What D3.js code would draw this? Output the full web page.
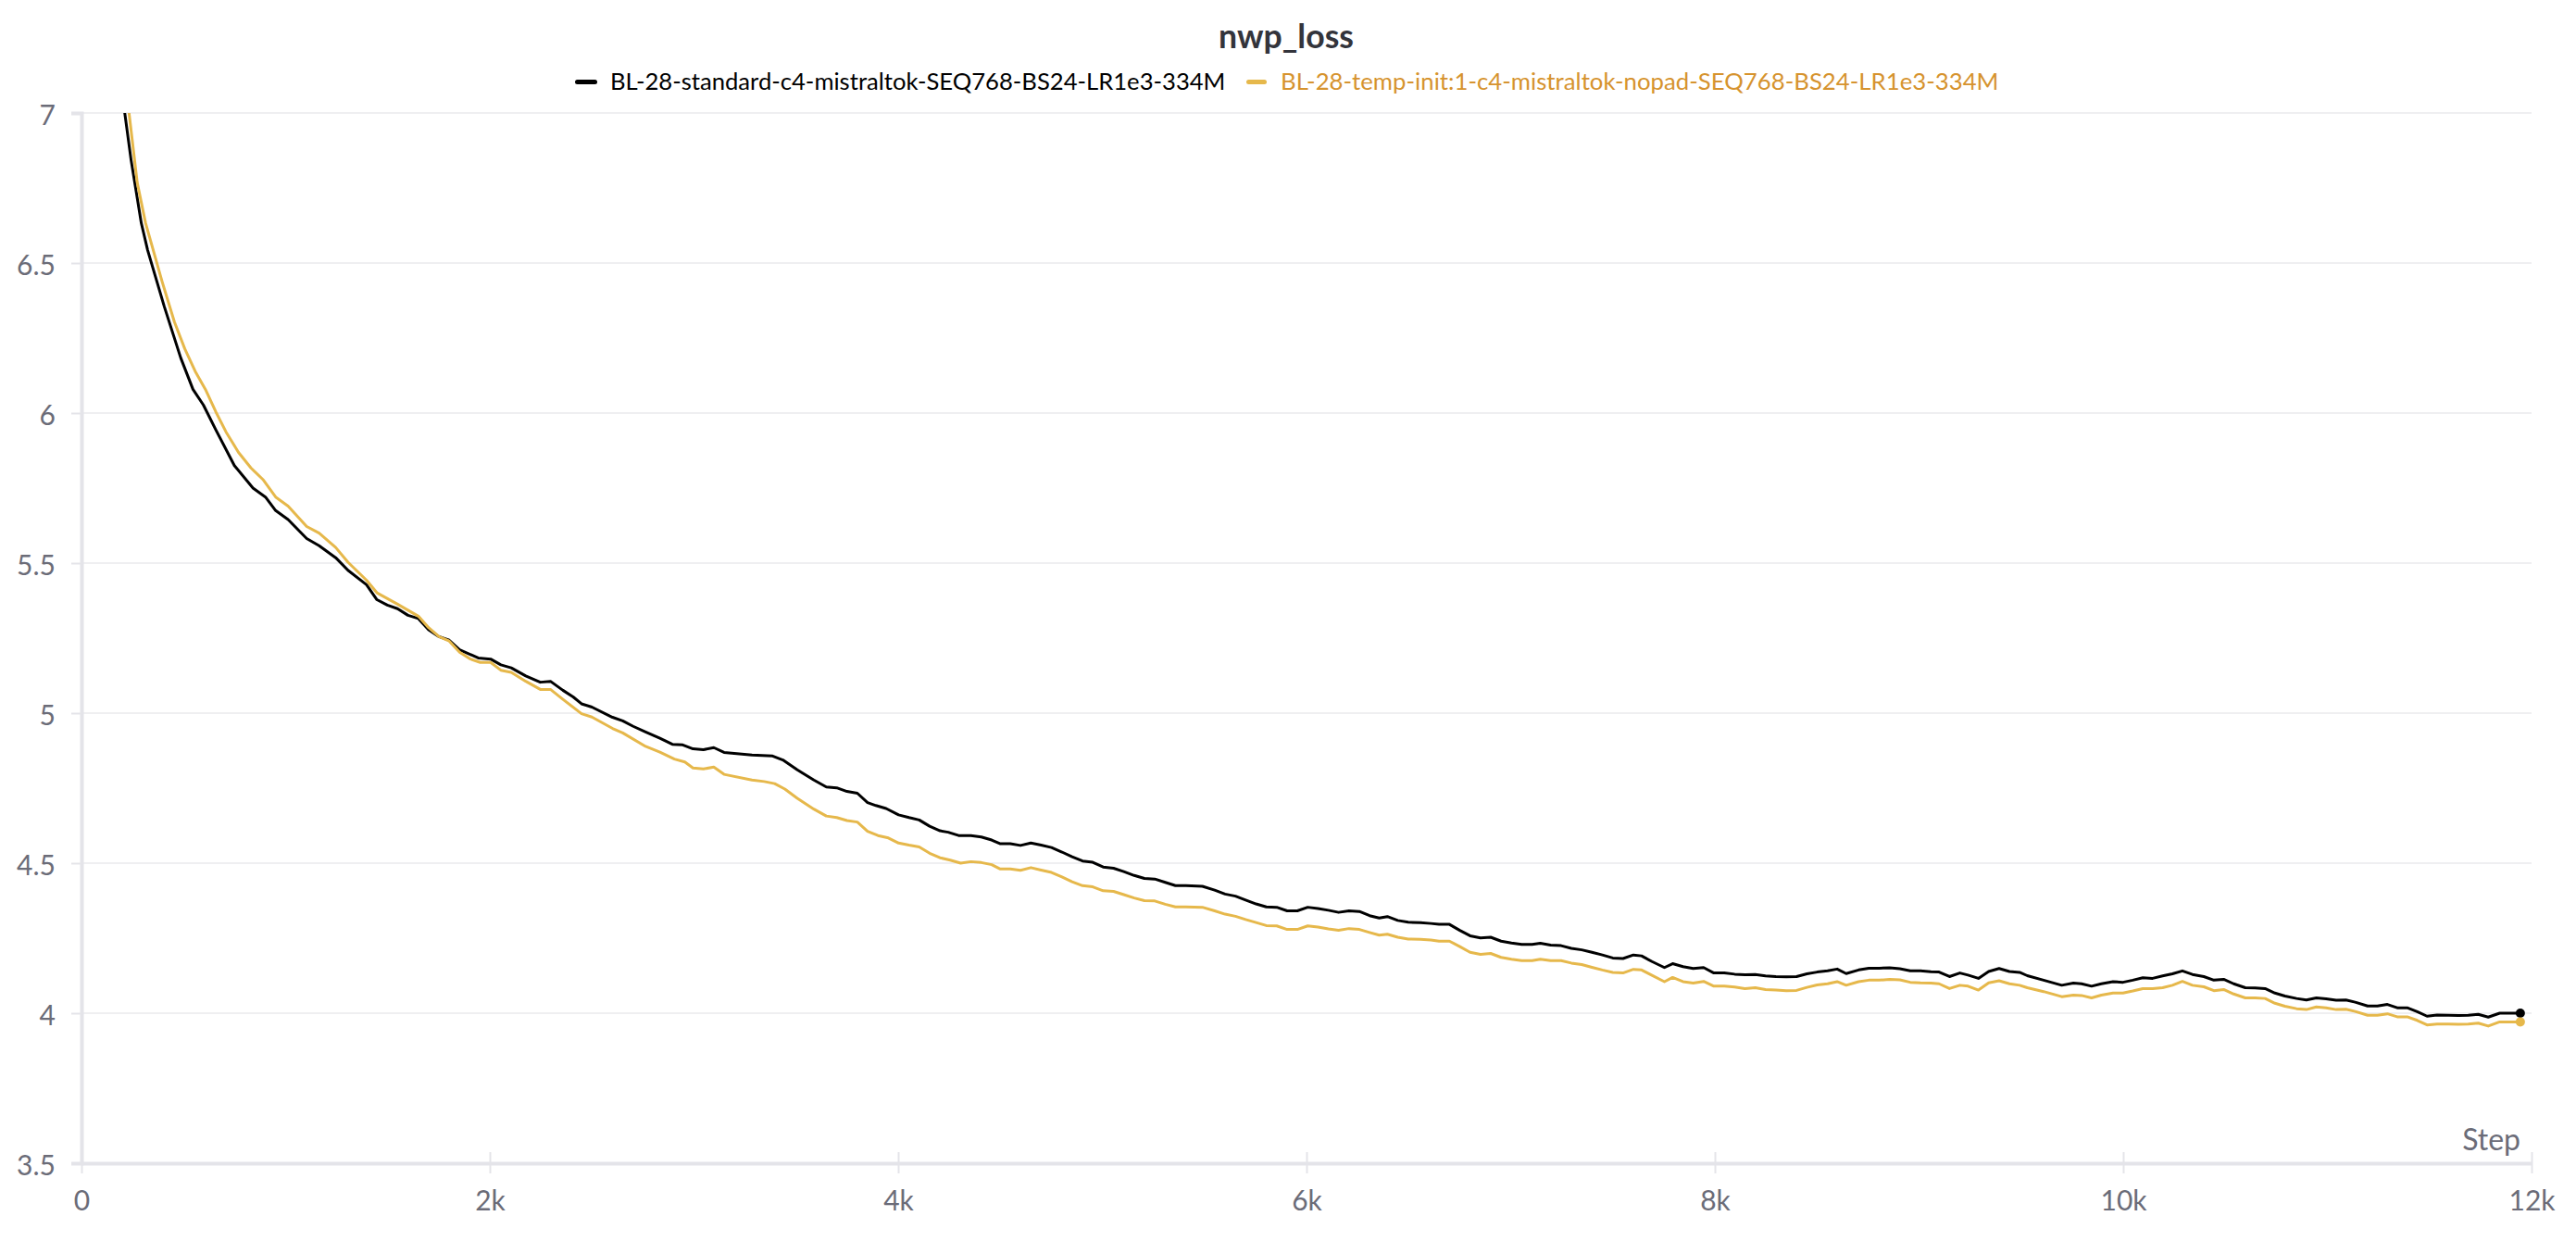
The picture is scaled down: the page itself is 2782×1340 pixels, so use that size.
<!DOCTYPE html>
<html>
<head>
<meta charset="utf-8">
<script src="https://cdn.jsdelivr.net/npm/d3@7"></script>
<style>
  html, body { margin: 0; padding: 0; background: #fff; }
  svg { display: block; }
  text { font-family: Lato, "Open Sans", sans-serif; }
</style>
</head>
<body>
<svg id="chart" width="2782" height="1340"></svg>
<script>
// ---------------- DATA ----------------
const chartTitle = "nwp_loss";
const xLabel = "Step";
const seriesNames = [
  "BL-28-standard-c4-mistraltok-SEQ768-BS24-LR1e3-334M",
  "BL-28-temp-init:1-c4-mistraltok-nopad-SEQ768-BS24-LR1e3-334M"
];
const seriesColors = ["#000000", "#E6B84B"];
const legendTextColors = ["#000000", "#D6932E"];

const xTickValues = [0, 2000, 4000, 6000, 8000, 10000, 12000];
const xTickLabels = ["0", "2k", "4k", "6k", "8k", "10k", "12k"];
const yTickValues = [3.5, 4, 4.5, 5, 5.5, 6, 6.5, 7];
const yTickLabels = ["3.5", "4", "4.5", "5", "5.5", "6", "6.5", "7"];

const blackSteps = [150,180,212,243,293,324,405,486,546,597,658,749,840,901,951,1012,1103,1164,1245,1305,1396,1447,1498,1548,1599,1650,1700,1751,1801,1852,1943,2004,2054,2105,2176,2247,2297,2358,2408,2449,2500,2601,2651,2702,2763,2833,2894,2945,2995,3046,3097,3147,
  3284,3385,3435,3506,3587,3648,3699,3749,3800,3850,3891,3941,4002,4053,4103,4154,4205,4245,4296,4356,4407,4458,4498,4549,4599,4650,4700,4751,4802,4852,4903,4953,5004,5055,5105,5156,5206,5257,5308,5358,5409,5490,5550,5601,5652,5702,5753,5803,5854,5905,5955,6006,6056,6107,6157,6208,6259,6309,6356,
  6396,6447,6498,6558,6609,6649,6700,6751,6801,6852,6902,6953,7004,7054,7105,7145,7196,7247,7297,7348,7398,7449,7500,7550,7601,7641,7692,7753,7793,7844,7894,7945,7995,8046,8097,8147,8198,8248,8299,8350,8400,8451,8501,8552,8599,8643,8704,8754,8805,8856,8906,8957,9007,9058,9098,9149,9200,9240,9291,9341,9392,9443,9493,9530,
  9610,9699,9756,9796,9845,9893,9950,9999,10047,10096,10144,10193,10241,10290,10339,10395,10444,10492,10541,10598,10646,10695,10743,10792,10849,10897,10946,10994,11043,11091,11140,11197,11245,11294,11342,11391,11440,11488,11537,11593,11642,11690,11739,11788,11844,11893,11945];
const blackLoss = [7.45,7.22,7.0,6.843,6.633,6.543,6.356,6.184,6.079,6.027,5.944,5.825,5.75,5.72,5.675,5.645,5.582,5.558,5.518,5.476,5.428,5.378,5.36,5.348,5.326,5.315,5.278,5.255,5.243,5.211,5.184,5.18,5.161,5.151,5.124,5.103,5.106,5.076,5.054,5.031,5.02,4.986,4.974,4.956,4.937,4.916,4.896,4.894,4.881,4.878,4.885,4.869,
  4.86,4.857,4.844,4.811,4.777,4.754,4.751,4.739,4.733,4.702,4.692,4.682,4.661,4.652,4.644,4.623,4.608,4.603,4.592,4.592,4.587,4.577,4.565,4.565,4.559,4.567,4.56,4.552,4.537,4.521,4.507,4.503,4.487,4.483,4.472,4.459,4.449,4.447,4.436,4.425,4.425,4.423,4.41,4.397,4.39,4.377,4.364,4.354,4.353,4.341,4.341,4.353,4.349,4.343,4.336,4.341,4.339,4.325,4.317,
  4.322,4.309,4.303,4.302,4.299,4.296,4.296,4.276,4.258,4.251,4.253,4.24,4.234,4.229,4.229,4.233,4.227,4.225,4.216,4.211,4.203,4.194,4.184,4.182,4.194,4.191,4.172,4.152,4.165,4.155,4.149,4.152,4.134,4.134,4.13,4.128,4.129,4.124,4.122,4.121,4.122,4.131,4.137,4.141,4.147,4.132,4.144,4.15,4.15,4.151,4.148,4.141,4.141,4.138,4.137,4.122,4.134,4.127,4.116,4.139,4.149,4.139,4.136,4.125,
  4.11,4.093,4.1,4.098,4.09,4.098,4.105,4.103,4.11,4.118,4.116,4.124,4.131,4.141,4.129,4.122,4.11,4.113,4.098,4.085,4.084,4.082,4.067,4.057,4.049,4.044,4.051,4.048,4.043,4.044,4.036,4.024,4.024,4.029,4.018,4.018,4.005,3.99,3.994,3.993,3.992,3.993,3.996,3.987,4.0,4.0,4.0];

const yellowSteps = [170,200,233,273,314,395,455,506,557,607,658,708,769,830,891,951,1012,1103,1164,1245,1305,1396,1447,1548,1650,1700,1751,1801,1852,1902,1953,2004,2054,2105,2176,2247,2297,2358,2449,2500,2601,2651,2763,2833,2904,2955,2995,3046,3097,3147,
  3284,3344,3395,3445,3506,3587,3648,3699,3749,3800,3850,3901,3952,4002,4053,4103,4154,4205,4255,4306,4356,4407,4458,4498,4549,4599,4650,4700,4751,4802,4852,4903,4953,5004,5055,5105,5156,5206,5257,5308,5358,5409,5490,5550,5601,5652,5702,5753,5803,5854,5905,5955,6006,6056,6107,6157,6208,6259,6309,6356,
  6396,6447,6498,6558,6609,6649,6700,6751,6801,6852,6902,6953,7004,7054,7105,7145,7196,7247,7297,7348,7398,7449,7500,7550,7601,7641,7692,7753,7793,7844,7894,7945,7995,8046,8097,8147,8198,8248,8299,8350,8400,8451,8501,8552,8599,8643,8704,8754,8805,8856,8906,8957,9007,9058,9098,9149,9200,9240,9291,9341,9392,9443,9493,9530,
  9610,9699,9756,9796,9845,9893,9950,9999,10047,10096,10144,10193,10241,10290,10339,10395,10444,10492,10541,10598,10646,10695,10743,10792,10849,10897,10946,10994,11043,11091,11140,11197,11245,11294,11342,11391,11440,11488,11537,11593,11642,11690,11739,11788,11844,11893,11945];
const yellowLoss = [7.5,7.25,7.0,6.768,6.633,6.438,6.304,6.214,6.139,6.079,6.004,5.937,5.869,5.817,5.777,5.72,5.69,5.622,5.6,5.552,5.503,5.443,5.401,5.363,5.323,5.285,5.255,5.24,5.203,5.181,5.169,5.169,5.143,5.136,5.106,5.079,5.079,5.046,4.998,4.987,4.949,4.934,4.889,4.87,4.847,4.837,4.817,4.814,4.82,4.796,
  4.777,4.772,4.765,4.747,4.716,4.68,4.657,4.652,4.642,4.637,4.606,4.592,4.584,4.567,4.56,4.554,4.533,4.518,4.51,4.5,4.505,4.502,4.495,4.481,4.481,4.476,4.485,4.477,4.469,4.454,4.438,4.425,4.421,4.408,4.406,4.395,4.384,4.375,4.374,4.363,4.354,4.354,4.353,4.341,4.33,4.323,4.312,4.302,4.292,4.291,4.279,4.279,4.291,4.287,4.281,4.276,4.282,4.279,4.269,4.26,
  4.263,4.253,4.247,4.246,4.244,4.24,4.24,4.222,4.203,4.196,4.199,4.186,4.18,4.175,4.175,4.18,4.175,4.175,4.167,4.162,4.153,4.144,4.136,4.134,4.146,4.144,4.126,4.105,4.119,4.105,4.1,4.106,4.09,4.09,4.087,4.082,4.085,4.079,4.077,4.075,4.076,4.086,4.094,4.098,4.105,4.093,4.105,4.11,4.11,4.113,4.111,4.103,4.101,4.1,4.098,4.082,4.093,4.09,4.077,4.101,4.108,4.098,4.093,4.085,
  4.072,4.055,4.06,4.059,4.051,4.06,4.067,4.067,4.074,4.082,4.082,4.085,4.093,4.106,4.093,4.088,4.075,4.079,4.064,4.051,4.051,4.049,4.033,4.023,4.015,4.012,4.021,4.018,4.012,4.013,4.005,3.993,3.993,3.998,3.988,3.988,3.976,3.961,3.964,3.964,3.963,3.964,3.967,3.957,3.971,3.971,3.971];

// ---------------- LAYOUT ----------------
const W = 2782, H = 1340;
const plot = { left: 88, right: 2734, top: 122, bottom: 1256 };
const tickFont = 30;
const tickColor = "#6b6c78";

const svg = d3.select("#chart");
const x = d3.scaleLinear().domain([0, 12000]).range([plot.left, plot.right]);
const y = d3.scaleLinear().domain([3.5, 7]).range([plot.bottom, plot.top]);

// horizontal gridlines
svg.append("g")
  .selectAll("line")
  .data(yTickValues.filter(v => v > 3.5))
  .join("line")
  .attr("x1", plot.left).attr("x2", plot.right)
  .attr("y1", d => y(d)).attr("y2", d => y(d))
  .attr("stroke", "#efeff1").attr("stroke-width", 2);

// y axis
const yAxis = d3.axisLeft(y).tickValues(yTickValues)
  .tickFormat((d, i) => yTickLabels[i]).tickSize(11).tickPadding(17);
const gy = svg.append("g").attr("transform", `translate(${plot.left},0)`).call(yAxis);
gy.select(".domain").attr("stroke", "#e4e4e9").attr("stroke-width", 4);
gy.selectAll(".tick line").attr("stroke", "#e4e4e9").attr("stroke-width", 2);
gy.selectAll(".tick text").attr("fill", tickColor).attr("font-size", tickFont)
  .attr("font-family", "Lato").attr("dy", "0.40em");

// x axis
const xAxis = d3.axisBottom(x).tickValues(xTickValues)
  .tickFormat((d, i) => xTickLabels[i]).tickSize(0).tickPadding(30);
const gx = svg.append("g").attr("transform", `translate(0,${plot.bottom})`).call(xAxis);
gx.select(".domain").attr("stroke", "#e4e4e9").attr("stroke-width", 4);
gx.selectAll(".tick").append("line")
  .attr("y1", -12).attr("y2", 11)
  .attr("stroke", "#e4e4e9").attr("stroke-width", 2);
gx.selectAll(".tick text").attr("fill", tickColor).attr("font-size", tickFont)
  .attr("font-family", "Lato").attr("dy", "0.71em");

// x label
svg.append("text")
  .attr("x", plot.right - 12).attr("y", plot.bottom - 14)
  .attr("text-anchor", "end")
  .attr("fill", tickColor).attr("font-size", tickFont + 2)
  .text(xLabel);

// clip
svg.append("clipPath").attr("id", "clip")
  .append("rect").attr("x", plot.left).attr("y", plot.top)
  .attr("width", plot.right - plot.left).attr("height", plot.bottom - plot.top);

const line = d3.line().x(d => x(d[0])).y(d => y(d[1]));
const series = [
  d3.zip(blackSteps, blackLoss),
  d3.zip(yellowSteps, yellowLoss)
];

const gLines = svg.append("g").attr("clip-path", "url(#clip)");
series.forEach((s, i) => {
  gLines.append("path").datum(s)
    .attr("d", line)
    .attr("fill", "none")
    .attr("stroke", seriesColors[i])
    .attr("stroke-width", 3)
    .attr("stroke-linejoin", "round")
    .attr("stroke-linecap", "round");
});
series.forEach((s, i) => {
  const last = s[s.length - 1];
  svg.append("circle")
    .attr("cx", x(last[0])).attr("cy", y(last[1])).attr("r", 5)
    .attr("fill", seriesColors[i]);
});

// title (fit width)
function fitText(sel, target) {
  const w = sel.node().getComputedTextLength();
  const fs = parseFloat(sel.attr("font-size"));
  sel.attr("font-size", fs * target / w);
}
const title = svg.append("text")
  .attr("x", 1389).attr("y", 52)
  .attr("text-anchor", "middle")
  .attr("font-weight", "bold")
  .attr("font-size", 32)
  .attr("fill", "#33343b")
  .text(chartTitle);
fitText(title, 146);

// legend
const legendItems = [
  { swatchX: 621, swatchW: 24, textX: 659, width: 665 },
  { swatchX: 1346, swatchW: 22, textX: 1383, width: 776 }
];
legendItems.forEach((it, i) => {
  svg.append("rect")
    .attr("x", it.swatchX).attr("y", 86)
    .attr("width", it.swatchW).attr("height", 5).attr("rx", 2.5)
    .attr("fill", seriesColors[i]);
  const t = svg.append("text")
    .attr("x", it.textX).attr("y", 97)
    .attr("font-size", 26)
    .attr("fill", legendTextColors[i])
    .text(seriesNames[i]);
  fitText(t, it.width);
});
</script>
</body>
</html>
